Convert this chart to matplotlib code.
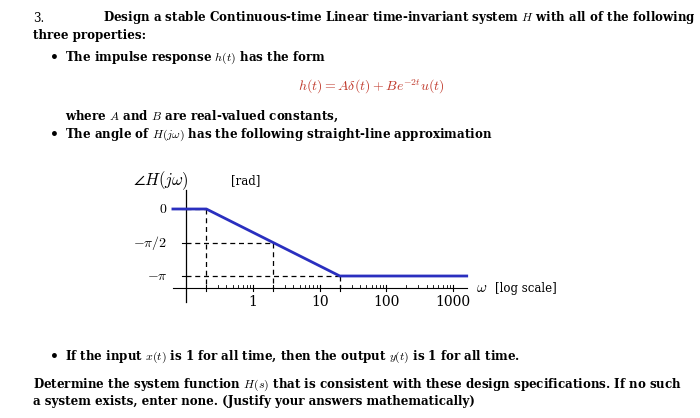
import numpy as np
import matplotlib
matplotlib.use("Agg")
import matplotlib.pyplot as plt

plt.rcParams["mathtext.fontset"] = "cm"
plt.rcParams["font.family"] = "DejaVu Serif"

# straight-line phase approximation
omega = [0.063, 0.2, 20, 1600]
phase = [0, 0, -np.pi, -np.pi]
guide_w = [0.2, 2, 20]
guide_p = [0, -np.pi / 2, -np.pi]
major_ticks = [1, 10, 100, 1000]
major_labels = ["1", "10", "100", "1000"]
ytick_vals = [0, -np.pi / 2, -np.pi]
ytick_labels = ["$0$", r"$-\pi/2$", r"$-\pi$"]

W, H = 700, 418
fig = plt.figure(figsize=(7, 4.18), dpi=100)

def ftext(x, y, s, **kw):
    kw.setdefault("fontsize", 8.6)
    kw.setdefault("fontweight", "bold")
    kw.setdefault("va", "center")
    fig.text(x / W, 1 - y / H, s, **kw)

ftext(33, 18, "3.", fontweight="normal")
ftext(103, 18, r"Design a stable Continuous-time Linear time-invariant system $\mathit{H}$ with all of the following")
ftext(33, 35, "three properties:")
ftext(50, 58, "•", fontsize=10)
ftext(65, 58, r"The impulse response $h(t)$ has the form")
ftext(298, 87, r"$h(t)=A\delta(t)+Be^{-2t}u(t)$", color="#c0392b", fontsize=10)
ftext(65, 116, "where $A$ and $B$ are real-valued constants,")
ftext(50, 135, "•", fontsize=10)
ftext(65, 135, r"The angle of $H(j\omega)$ has the following straight-line approximation")
ftext(50, 357, "•", fontsize=10)
ftext(65, 357, r"If the input $x(t)$ is 1 for all time, then the output $y(t)$ is 1 for all time.")
ftext(33, 385, r"Determine the system function $H(s)$ that is consistent with these design specifications. If no such")
ftext(33, 402, "a system exists, enter none. (Justify your answers mathematically)")

# axes placed in pixel space: x px = 253 + 66.7*log10(w), y px = 209 - 67*phi/pi
left, right, top, bot = 140, 480, 180, 310
ax = fig.add_axes([left / W, 1 - bot / H, (right - left) / W, (bot - top) / H])
ax.set_xscale("log")
ax.set_xlim(10 ** ((left - 253) / 66.7), 10 ** ((right - 253) / 66.7))
ax.set_ylim(-(bot - 209) / 67 * np.pi, (209 - top) / 67 * np.pi)
ax.axis("off")

y_axis = -1.18 * np.pi
ax.plot(omega, phase, color="#2a2fbf", lw=2, zorder=3)
# dashed guides
for w, p in zip(guide_w, guide_p):
    ax.plot([w, w], [p, y_axis], color="k", lw=0.9, ls=(0, (4, 3)))
    ax.plot([0.1, w], [p, p], color="k", lw=0.9, ls=(0, (4, 3)))
# axes lines
ax.plot([0.063, 1600], [y_axis, y_axis], color="k", lw=0.8)
ax.plot([0.1, 0.1], [-1.39 * np.pi, 0.28 * np.pi], color="k", lw=0.9)
# y ticks
for v, lab in zip(ytick_vals, ytick_labels):
    ax.plot([0.086, 0.1], [v, v], color="k", lw=0.8)
    ax.text(0.052, v, lab, ha="right", va="center", fontsize=10)
# x ticks
tick_h = 0.05 * np.pi
for dec in [0.1, 1, 10, 100, 1000]:
    for m in range(2, 10):
        w = dec * m
        if w > 1600:
            continue
        ax.plot([w, w], [y_axis, y_axis + tick_h], color="k", lw=0.6)
for w in major_ticks + guide_w:
    ax.plot([w, w], [y_axis - tick_h, y_axis + tick_h], color="k", lw=0.8)
for w, lab in zip(major_ticks, major_labels):
    ax.text(w, y_axis - 0.1 * np.pi, lab, ha="center", va="top", fontsize=10)
ax.text(2200, y_axis, r"$\omega$", ha="left", va="center", fontsize=11)
ax.text(4300, y_axis, "[log scale]", ha="left", va="center", fontsize=8.5)
ax.text(0.016, 0.43 * np.pi, r"$\angle H(j\omega)$", ha="left", va="center", fontsize=12)
ax.text(0.46, 0.43 * np.pi, "[rad]", ha="left", va="center", fontsize=8.5)

fig.savefig("out.png", dpi=100)
